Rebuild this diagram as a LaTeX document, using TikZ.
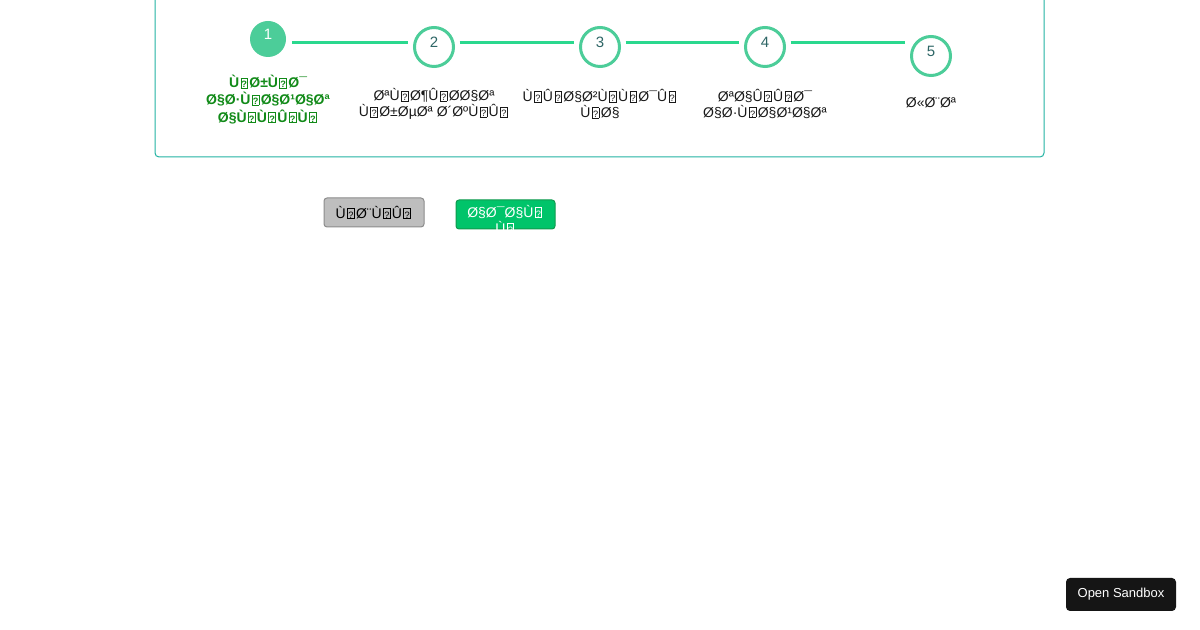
\documentclass[tikz,border=0pt]{standalone}
\usepackage{fontspec}
\setmainfont{Liberation Sans}
\usepackage{xcolor}
\usepackage{tikz}
\usetikzlibrary{positioning}

\definecolor{mint}{HTML}{4CCD99}
\definecolor{rail}{HTML}{2AD88E}
\definecolor{frame}{HTML}{22B3A3}
\definecolor{digit}{HTML}{2E6666}
\definecolor{okgreen}{HTML}{118A18}
\definecolor{nextfill}{HTML}{00C46A}
\definecolor{nextline}{HTML}{109A4E}
\definecolor{prevfill}{HTML}{BEBEBE}
\definecolor{prevline}{HTML}{8C8C8C}
\definecolor{sandbox}{HTML}{151515}

% missing glyph box
\newcommand{\qb}{\kern0.1em{\setlength{\fboxsep}{0pt}\setlength{\fboxrule}{0.6pt}\fbox{\makebox[0.42em]{\rule{0pt}{0.66em}\scalebox{0.66}{?}}}}\kern0.1em}

\tikzset{
    stage/.style={circle, draw=mint, line width=2.25pt, fill=white, minimum size=29.25pt,
        inner sep=0pt, outer sep=0pt, text=digit, font=\fontsize{11.25pt}{12pt}\selectfont,
        text height=0.72em, text depth=0.65em},
    stagedone/.style={stage, draw=none, fill=mint, minimum size=27pt, text=white},
    caption/.style={align=center, text=black!90, font=\fontsize{10.5pt}{12pt}\selectfont},
    button/.style={draw, line width=0.75pt, rounded corners=2.25pt, minimum height=21.75pt,
        inner sep=0pt, font=\fontsize{10.5pt}{12pt}\selectfont},
}

\begin{document}
\begin{tikzpicture}[x=0.75pt, y=-0.75pt]
    \fill[white] (0,0) rectangle (1200,630);
    \useasboundingbox (0,0) rectangle (1200,630);

    \draw[frame, line width=0.75pt, rounded corners=3pt] (155,-10) rectangle (1044,157);

    \coordinate (bar) at (0,43);

    \node[stagedone] (1) at (268,39) {1};
    \node[stage]     (2) at (434,47) {2};
    \node[stage]     (3) at (600,47) {3};
    \node[stage]     (4) at (765,47) {4};
    \node[stage]     (5) at (931,56) {5};

    \foreach \a/\b in {1/2, 2/3, 3/4, 4/5}
        \draw[rail, line width=2.25pt, shorten <=4.5pt, shorten >=4.9pt]
            (\a.east |- bar) -- (\b.west |- bar);

    \node[caption, text=okgreen, font=\bfseries\fontsize{10.5pt}{12.9pt}\selectfont] (l1) at (268,99.5)
        {Ù\qb Ø±Ù\qb Ø¯\\Ø§Ø·Ù\qb Ø§Ø¹Ø§Øª\\Ø§Ù\qb Ù\qb Û\qb Ù\qb};
    \node[caption] (l2) at (434,104) {ØªÙ\qb Ø¶Û\qb ØØ§Øª\\Ù\qb Ø±ØµØª Ø´ØºÙ\qb Û\qb};
    \node[caption] (l3) at (600,104) {Ù\qb Û\qb Ø§Ø²Ù\qb Ù\qb Ø¯Û\qb\\Ù\qb Ø§};
    \node[caption] (l4) at (765,103.5) {ØªØ§Û\qb Û\qb Ø¯\\Ø§Ø·Ù\qb Ø§Ø¹Ø§Øª};
    \node[caption] (l5) at (931,103) {Ø«Ø¨Øª};

    % buttons
    \node[button, draw=prevline, fill=prevfill, minimum width=75pt] (prev) at (374,212.5) {Ù\qb Ø¨Ù\qb Û\qb};
    \node[button, draw=nextline, fill=nextfill, minimum width=74.25pt] (next) at (505.5,214.5) {};
    \node[caption, text=white] (nexttext) at ([yshift=-3.75pt]next.center) {Ø§Ø¯Ø§Ù\qb\\Ù\qb};

    \node[fill=sandbox, rounded corners=3pt, minimum width=82.5pt, minimum height=24.75pt,
        text=white, font=\fontsize{9.75pt}{11pt}\selectfont] (sandbox) at (1121,594.5) {Open Sandbox};
\end{tikzpicture}
\end{document}
